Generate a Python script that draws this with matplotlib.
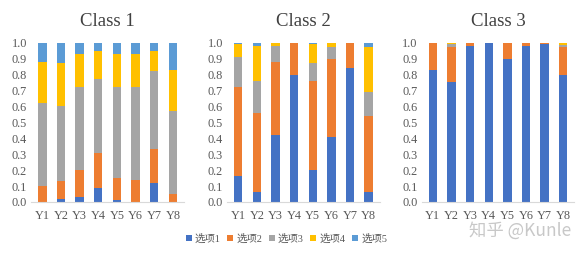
import matplotlib.pyplot as plt
import numpy as np

plt.rcParams['font.family'] = ['Liberation Serif', 'Noto Sans CJK SC']

years = ['Y1', 'Y2', 'Y3', 'Y4', 'Y5', 'Y6', 'Y7', 'Y8']
options = ['选项1', '选项2', '选项3', '选项4', '选项5']
colors = ['#4472C4', '#ED7D31', '#A5A5A5', '#FFC000', '#5B9BD5']

# shares per option (rows: 选项1..选项5)
class1 = [
    [0.00, 0.02, 0.03, 0.09, 0.01, 0.00, 0.12, 0.00],
    [0.10, 0.11, 0.17, 0.22, 0.14, 0.14, 0.21, 0.05],
    [0.52, 0.47, 0.52, 0.46, 0.57, 0.58, 0.49, 0.52],
    [0.26, 0.27, 0.21, 0.18, 0.21, 0.21, 0.13, 0.26],
    [0.12, 0.13, 0.07, 0.05, 0.07, 0.07, 0.05, 0.17],
]
class2 = [
    [0.16, 0.06, 0.42, 0.80, 0.20, 0.41, 0.84, 0.06],
    [0.56, 0.50, 0.46, 0.20, 0.56, 0.49, 0.16, 0.48],
    [0.19, 0.20, 0.10, 0.00, 0.11, 0.07, 0.00, 0.15],
    [0.08, 0.22, 0.02, 0.00, 0.12, 0.03, 0.00, 0.28],
    [0.01, 0.02, 0.00, 0.00, 0.01, 0.00, 0.00, 0.03],
]
class3 = [
    [0.83, 0.75, 0.98, 1.00, 0.90, 0.98, 0.99, 0.80],
    [0.165, 0.22, 0.02, 0.00, 0.10, 0.015, 0.01, 0.17],
    [0.00, 0.02, 0.00, 0.00, 0.00, 0.005, 0.00, 0.015],
    [0.005, 0.01, 0.00, 0.00, 0.00, 0.00, 0.00, 0.015],
    [0.00, 0.00, 0.00, 0.00, 0.00, 0.00, 0.00, 0.00],
]
titles = ['Class 1', 'Class 2', 'Class 3']

fig = plt.figure(figsize=(5.88, 2.54), dpi=100)
lefts = [0.053, 0.386, 0.717]
x = np.arange(len(years))
handles = []
for left, data, title in zip(lefts, [class1, class2, class3], titles):
    ax = fig.add_axes([left, 0.205, 0.26, 0.627])
    bottom = np.zeros(len(years))
    for vals, c, name in zip(data, colors, options):
        vals = np.array(vals)
        b = ax.bar(x, vals, 0.45, bottom=bottom, color=c, label=name)
        bottom += vals
        if left == lefts[0]:
            handles.append(b)
    ax.set_xlim(-0.6, 7.6)
    ax.set_ylim(0, 1.0)
    ax.set_yticks(np.arange(0, 1.01, 0.1))
    ax.set_yticklabels([f'{v:.1f}' for v in np.arange(0, 1.01, 0.1)])
    ax.set_xticks(x)
    ax.set_xticklabels(years)
    ax.tick_params(axis='both', length=0, labelsize=8.8, colors='#595959')
    ax.tick_params(axis='x', pad=6)
    ax.tick_params(axis='y', pad=3)
    for s in ['top', 'right', 'left']:
        ax.spines[s].set_visible(False)
    ax.spines['bottom'].set_color('#D9D9D9')
    ax.set_title(title, fontsize=13.5, color='#404040', pad=12)

fig.legend(handles, options, loc='center', bbox_to_anchor=(0.487, 0.06),
           ncol=5, frameon=False, fontsize=7.5, handlelength=0.6,
           handleheight=0.6, handletextpad=0.3, columnspacing=0.6,
           labelcolor='#595959')
fig.text(0.885, 0.09, '知乎 @Kunle', fontsize=12.5, color='#C8C8C8',
         ha='center', va='center', family=['Noto Sans CJK SC', 'DejaVu Sans'])

fig.savefig('out.png', dpi=100)
